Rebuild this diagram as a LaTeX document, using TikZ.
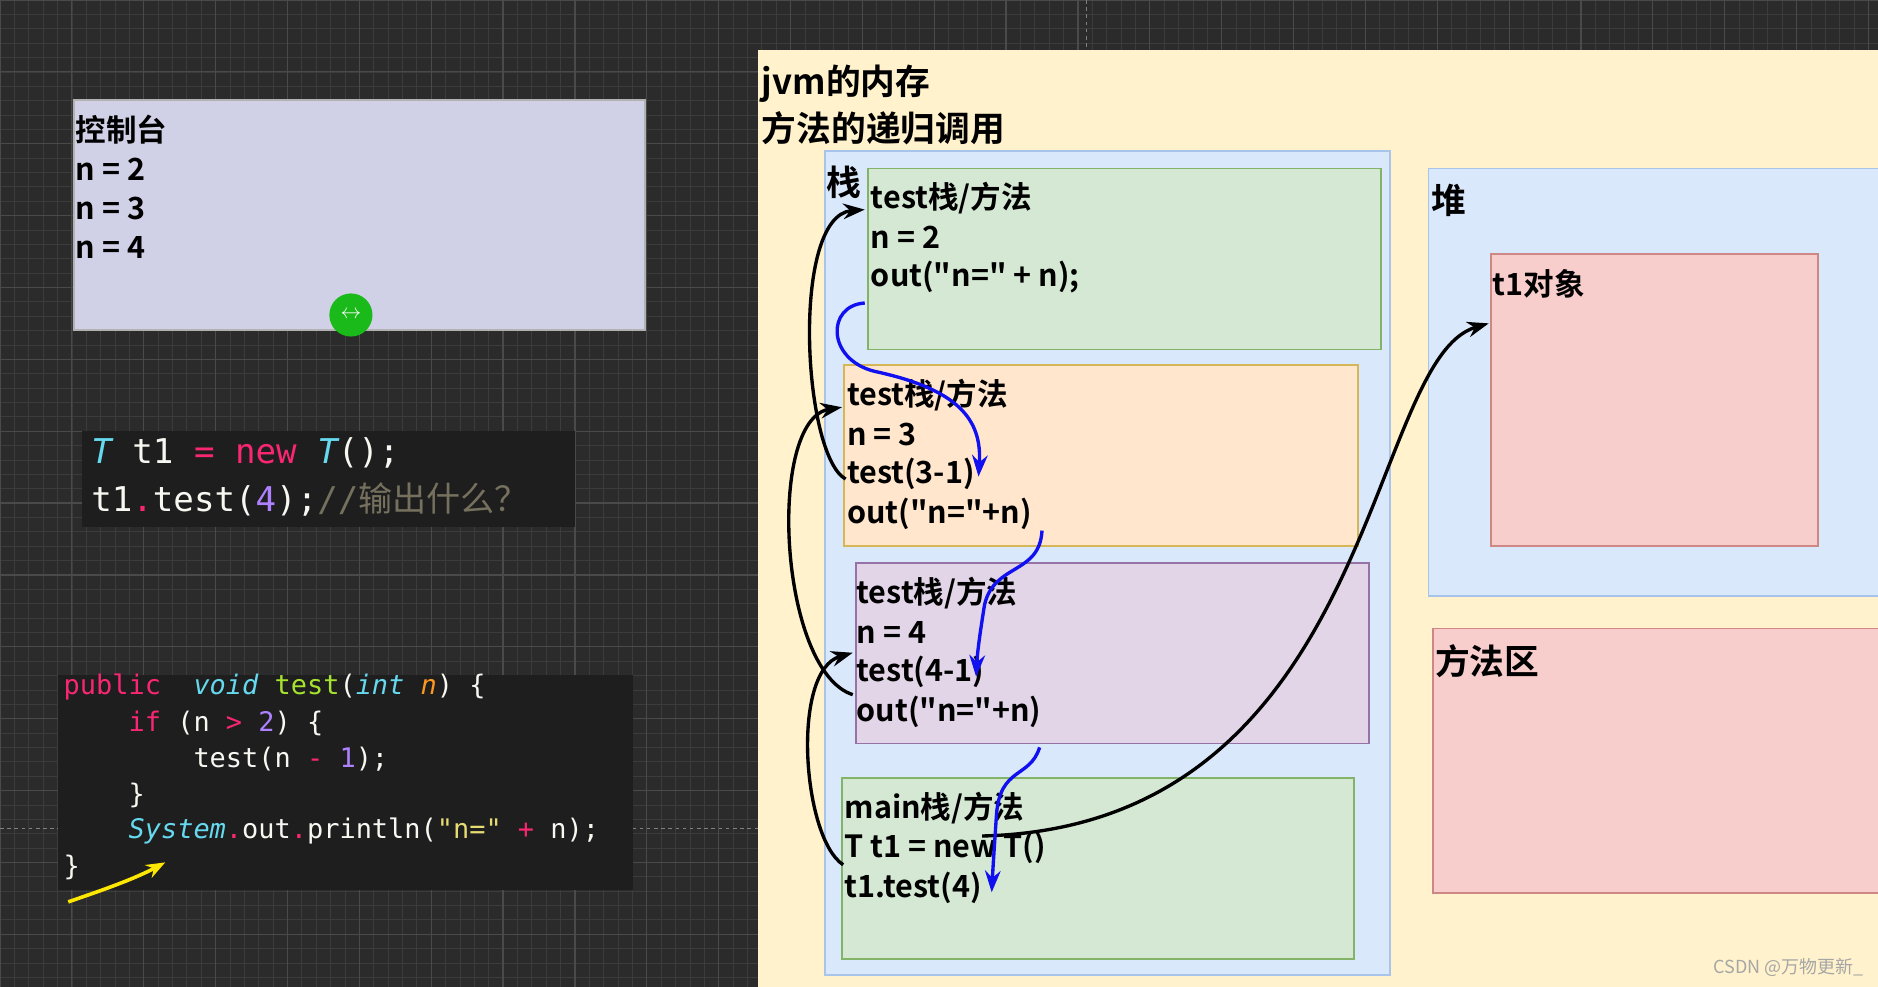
\documentclass[tikz,border=0pt]{standalone}
\usepackage{fontspec}
\setmainfont{Noto Sans CJK SC}[BoldFont={Noto Sans CJK SC Bold}]
\newfontfamily\cjkb{Noto Sans CJK SC Bold}
\newfontfamily\codef{DejaVu Sans Mono}
\newfontfamily\codecjk{Noto Sans CJK SC}
\usetikzlibrary{arrows.meta}
\definecolor{bgc}{HTML}{2B2B2B}
\definecolor{gridc}{HTML}{3C3C3C}
\definecolor{gridd}{HTML}{4A4A4A}
\definecolor{panel}{HTML}{FFF2CC}
\definecolor{bluef}{HTML}{DAE8FC}
\definecolor{blued}{HTML}{A9C4EB}
\definecolor{greenf}{HTML}{D5E8D4}
\definecolor{greend}{HTML}{82B366}
\definecolor{orangef}{HTML}{FFE6CC}
\definecolor{oranged}{HTML}{D6B656}
\definecolor{purplef}{HTML}{E1D5E7}
\definecolor{purpled}{HTML}{9673A6}
\definecolor{redf}{HTML}{F8CECC}
\definecolor{redd}{HTML}{B85450}
\definecolor{consf}{HTML}{D0D0E6}
\definecolor{codebg}{HTML}{1E1E1E}
\definecolor{kw}{HTML}{F92672}
\definecolor{ty}{HTML}{66D9EF}
\definecolor{num}{HTML}{AE81FF}
\definecolor{fn}{HTML}{A6E22E}
\definecolor{str}{HTML}{E6DB74}
\definecolor{par}{HTML}{FD971F}
\definecolor{cm}{HTML}{75715E}
\definecolor{ctext}{HTML}{F8F8F2}
\definecolor{arrb}{HTML}{1010F0}
\tikzset{
 x=1pt,y=-1pt,
 lbl/.style={anchor=west,inner sep=0pt,font=\cjkb\fontsize{25.5}{28}\selectfont,text=black},
 ttl/.style={anchor=west,inner sep=0pt,font=\cjkb\fontsize{29}{32}\selectfont,text=black},
 box/.style={draw,line width=1.5pt},
 blk/.style={-{Stealth[length=18pt,width=13pt]},line width=2.8pt,black},
 blu/.style={-{Stealth[length=18pt,width=13pt]},line width=2.8pt,arrb},
 code/.style={anchor=west,inner sep=0pt,text=ctext},
}
\begin{document}
\begin{tikzpicture}
\useasboundingbox (0,0) rectangle (1568,824);
\fill[bgc] (0,0) rectangle (1568,824);
\foreach \i in {0,12,...,1568} \draw[gridc,line width=0.6pt] (\i,0)--(\i,824);
\foreach \j in {0,12,...,824} \draw[gridc,line width=0.6pt] (0,\j)--(1568,\j);
\foreach \i in {0,60,...,1568} \draw[gridd,line width=1pt] (\i,0)--(\i,824);
\foreach \j in {0,60,...,824} \draw[gridd,line width=1pt] (0,\j)--(1568,\j);
\draw[gray,dashed,line width=1pt] (907,0)--(907,40);
\draw[gray,dashed,line width=1pt] (0,692)--(633,692);
% console
\node[box,draw=gray!60,fill=consf,minimum width=477pt,minimum height=192pt,anchor=north west,inner sep=0pt] (cons) at (61,83) {};
\node[lbl] (c0) at (63,108) {控制台};
\node[lbl] (c1) at (63,141) {n = 2};
\node[lbl] (c2) at (63,174) {n = 3};
\node[lbl] (c3) at (63,207) {n = 4};
\node[circle,fill=green!70!black!90,minimum size=36pt,inner sep=0pt] (mv) at (293,263) {};
\node[text=white,font=\fontsize{18}{18}\selectfont] at (mv) {$\leftrightarrow$};
% code 1
\node[fill=codebg,minimum width=412pt,minimum height=80pt,anchor=north west,inner sep=0pt] (cb1) at (68,360) {};
\node[code,font=\codef\fontsize{28.5}{30}\selectfont] (l1) at (76,378) {\textcolor{ty}{\itshape T} t1 \textcolor{kw}{=} \textcolor{kw}{new} \textcolor{ty}{\itshape T}();};
\node[code,font=\codef\fontsize{28.5}{30}\selectfont] (l2) at (76,417) {t1\textcolor{kw}{.}test(\textcolor{num}{4});\textcolor{cm}{//{\codecjk 输出什么？}}};
% code 2
\node[fill=codebg,minimum width=480pt,minimum height=180pt,anchor=north west,inner sep=0pt] (cb2) at (48,563) {};
\begin{scope}[every node/.style={code,font=\codef\fontsize{22.5}{24}\selectfont}]
\node (k1) at (53,574) {\textcolor{kw}{public}\ \ \textcolor{ty}{\itshape void} \textcolor{fn}{test}(\textcolor{ty}{\itshape int} \textcolor{par}{\itshape n}) \{};
\node (k2) at (53,604) {\ \ \ \ \textcolor{kw}{if} (n \textcolor{kw}{>} \textcolor{num}{2}) \{};
\node (k3) at (53,634) {\ \ \ \ \ \ \ \ test(n \textcolor{kw}{-} \textcolor{num}{1});};
\node (k4) at (53,664) {\ \ \ \ \}};
\node (k5) at (53,694) {\ \ \ \ \textcolor{ty}{\itshape System}\textcolor{kw}{.}out\textcolor{kw}{.}println(\textcolor{str}{"n="} \textcolor{kw}{+} n);};
\node (k6) at (53,724) {\}};
\end{scope}
\coordinate (ya) at (57,753); \coordinate (yb) at (138,720);
\draw[-{Stealth[length=16pt,width=12pt]},yellow!90!orange,line width=3pt] (ya) .. controls (80,745) and (110,735) .. (yb);
% right panel
\fill[panel] (633,42) rectangle (1568,824);
\node[ttl] (t1) at (636,70) {jvm的内存};
\node[ttl] (t2) at (636,107) {方法的递归调用};
\node[box,draw=blued,fill=bluef,anchor=north west,minimum width=472pt,minimum height=688pt,inner sep=0pt] (stk) at (688,125) {};
\node[ttl] (stl) at (690,152) {栈};
\node[box,draw=greend,fill=greenf,anchor=north west,minimum width=428pt,minimum height=151pt,inner sep=0pt] (f1) at (724,140) {};
\node[lbl] at (727,165) {test栈/方法};
\node[lbl] at (727,198) {n = 2};
\node[lbl] at (727,231) {out("n=" + n);};
\node[box,draw=oranged,fill=orangef,anchor=north west,minimum width=429pt,minimum height=151pt,inner sep=0pt] (f2) at (704,304) {};
\node[lbl] at (707,330) {test栈/方法};
\node[lbl] at (707,363) {n = 3};
\node[lbl] at (707,396) {test(3-1)};
\node[lbl] at (707,429) {out("n="+n)};
\node[box,draw=purpled,fill=purplef,anchor=north west,minimum width=428pt,minimum height=151pt,inner sep=0pt] (f3) at (714,469) {};
\node[lbl] at (715,495) {test栈/方法};
\node[lbl] at (715,528) {n = 4};
\node[lbl] at (715,561) {test(4-1)};
\node[lbl] at (715,594) {out("n="+n)};
\node[box,draw=greend,fill=greenf,anchor=north west,minimum width=428pt,minimum height=151pt,inner sep=0pt] (f4) at (702,649) {};
\node[lbl] at (705,675) {main栈/方法};
\node[lbl] at (705,708) {T t1 = new T()};
\node[lbl] at (705,741) {t1.test(4)};
\node[box,draw=blued,fill=bluef,anchor=north west,minimum width=390pt,minimum height=357pt,inner sep=0pt] (heap) at (1192,140) {};
\node[ttl] at (1195,167) {堆};
\node[box,draw=redd!70,fill=redf,anchor=north west,minimum width=273pt,minimum height=244pt,inner sep=0pt] (obj) at (1244,211) {};
\node[lbl] at (1246,237) {t1对象};
\node[box,draw=redd!70,fill=redf,anchor=north west,minimum width=390pt,minimum height=221pt,inner sep=0pt] (ma) at (1196,524) {};
\node[ttl] at (1198,552) {方法区};
% black arrows
\draw[blk] (704,722) .. controls (670,700) and (660,560) .. (712,545);
\draw[blk] (712,580) .. controls (650,560) and (640,350) .. (703,340);
\draw[blk] (706,400) .. controls (670,380) and (660,180) .. (722,175);
\draw[blk] (820,698) .. controls (1150,690) and (1140,300) .. (1243,270);
% blue arrows
\draw[blu] (722,253) .. controls (690,255) and (690,300) .. (730,310) .. controls (800,325) and (820,350) .. (817,398);
\draw[blu] (870,443) .. controls (868,480) and (830,470) .. (822,505) .. controls (818,530) and (816,545) .. (815,565);
\draw[blu] (868,624) .. controls (860,650) and (835,640) .. (832,680) .. controls (830,710) and (829,725) .. (828,745);
\node[anchor=east,inner sep=0pt,text=gray!70,font=\fontsize{15}{16}\selectfont] (wm) at (1556,808) {CSDN @万物更新\_};
\end{tikzpicture}
\end{document}
